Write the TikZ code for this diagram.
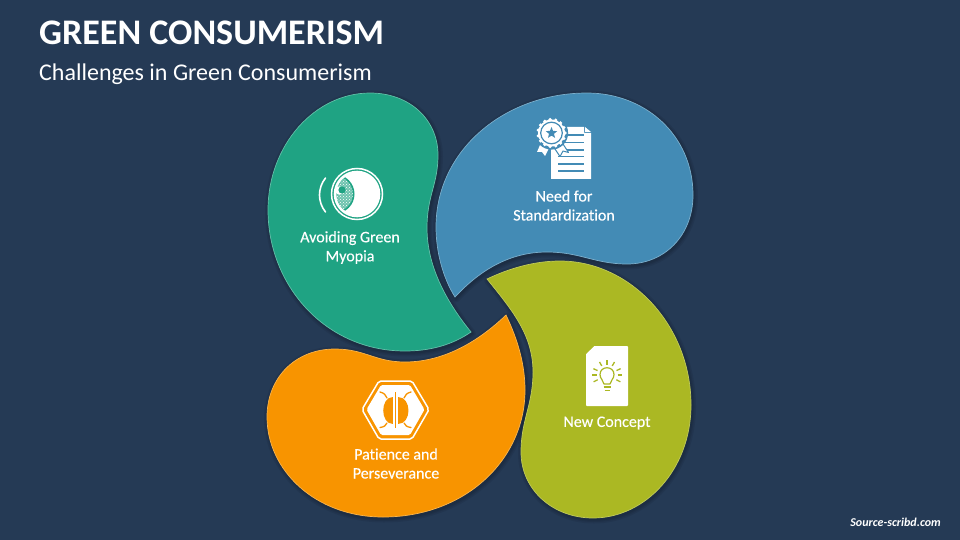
\documentclass[tikz,border=0pt]{standalone}
\usepackage{fontspec}
\setmainfont[RawFeature={-liga;-clig;-dlig}]{Carlito}
\newfontfamily\lblfont[RawFeature={-liga;-clig;-dlig},FakeBold=0.25]{Carlito}
\usetikzlibrary{shapes.geometric,patterns}
\definecolor{bgc}{HTML}{253A55}
\definecolor{greenc}{HTML}{1FA383}
\definecolor{bluec}{HTML}{438BB5}
\definecolor{olivec}{HTML}{ABB823}
\definecolor{orangec}{HTML}{F89400}
\tikzset{
 lbl/.style={text=white,font=\lblfont\fontsize{16}{19}\selectfont,align=center,inner sep=0pt},
 title/.style={text=white,anchor=base west,inner sep=0pt},
 iconw/.style={fill=white,draw=none},
 shadowpart/.style={draw=black,line join=round,opacity=.07,fill=none},
}
\newcommand{\petal}[3]{%
 \begin{scope}[xshift=1pt,yshift=-1.5pt]
 \path[shadowpart,line width=8pt] #1;
 \path[shadowpart,line width=5pt] #1;
 \path[shadowpart,line width=2.5pt] #1;
 \end{scope}
 \path[fill=#2,draw=#3,line width=.7pt,line join=miter] #1;
}
\def\pgreen{(471,332) .. controls (452,345) and (430,351) .. (405,351) .. controls (325,351) and (268,285) .. (268,210) .. controls (268,145) and (315,93) .. (370,93) .. controls (410,93) and (438,120) .. (438,155) .. controls (438,185) and (427,195) .. (427,228) .. controls (427,265) and (445,300) .. cycle}
\def\pblue{(455,297) .. controls (443,278) and (436,252) .. (436,227) .. controls (436,150) and (505,93) .. (587,93) .. controls (645,93) and (693,135) .. (693,195) .. controls (693,235) and (665,264) .. (627,264) .. controls (595,264) and (580,252) .. (547,252) .. controls (510,252) and (480,270) .. cycle}
\def\polive{(487,279) .. controls (510,268) and (535,261) .. (560,261) .. controls (630,261) and (691,325) .. (691,405) .. controls (691,470) and (645,518) .. (593,518) .. controls (553,518) and (521,490) .. (521,452) .. controls (521,420) and (533,405) .. (533,372) .. controls (533,335) and (512,310) .. cycle}
\def\porange{(506,315) .. controls (518,340) and (525,365) .. (525,390) .. controls (525,460) and (465,517) .. (383,517) .. controls (315,517) and (267,470) .. (267,417) .. controls (267,378) and (295,349) .. (335,349) .. controls (365,349) and (375,362) .. (405,362) .. controls (445,362) and (480,340) .. cycle}
\begin{document}
\begin{tikzpicture}[x=1pt,y=-1pt]
\useasboundingbox (0,0) rectangle (960,540);
\fill[bgc] (0,0) rectangle (960,540);
\node[title,font=\fontsize{36}{40}\selectfont\bfseries] (ttl) at (39,45) {GREEN CONSUMERISM};
\node[title,font=\fontsize{24}{28}\selectfont] (sub) at (39,80.5) {Challenges in Green Consumerism};
\node[text=white,anchor=base east,inner sep=0pt,font=\fontsize{12}{14}\selectfont\bfseries\itshape] (src) at (941,526) {Source-scribd.com};

\petal{\porange}{orangec}{orangec!70!white}
\petal{\pgreen}{greenc}{greenc!70!white}
\petal{\pblue}{bluec}{bluec!70!white}
\petal{\polive}{olivec}{olivec!75!white}

% eye icon
\draw[white,line width=1.5pt] (357,194) circle (25.5);
\fill[white] (357,194) circle (23.3);
\begin{scope}
 \clip (357,194) circle (20.5);
 \fill[greenc] (335,194) circle (19.5);
 \fill[greenc!65!white] (335,194) circle (17.8);
 \path[pattern=crosshatch dots,pattern color=white] (335,194) circle (17.8);
\end{scope}
\fill[white] (339.5,190.5) circle (4.2);
\fill[greenc] (342,190) circle (3.6);
\draw[white,line width=1.6pt,line cap=round] (325.5,178) .. controls (317.5,188) and (317.5,202) .. (325.5,212);

% certificate icon
\path[iconw] (551,127) -- (584,127) -- (584,133) -- (591,133) -- (591,179) -- (551,179) -- cycle;
\path[iconw] (585,127) -- (591,132) -- (585,132) -- cycle;
\foreach \yy/\xs in {135/558,142.7/558,150/558,156.7/558,164/558,171/558}{
 \draw[bluec,line width=1.3pt] (\xs,\yy) -- (584,\yy);
}
\path[fill=white,draw=none] (540,145) -- (537,152) -- (542,152) -- (545,156) -- (549,148) -- cycle;
\path[fill=white,draw=bluec,line width=1pt,line join=round] (555,149) -- (563,144) -- (568.5,152.5) -- (563,151) -- (560,156.5) -- cycle;
\fill[bluec] (551.5,133) circle (16.6);
\fill[white] (551.5,133) circle (13.5);
\foreach \a in {0,24,...,336}{\fill[white] (551.5,133) ++(\a:13.5) circle (1.8);}
\draw[bluec,line width=1.2pt] (551.5,133) circle (10.8);
\node[star,star points=5,star point ratio=2.3,fill=bluec,inner sep=0pt,minimum size=12pt] (starn) at (551.5,133) {};

% paper and bulb icon
\path[iconw,rounded corners=.8pt] (594,346) -- (628,346) -- (628,406) -- (586,406) -- (586,354) -- cycle;
\path[fill=olivec] (595,345) -- (585,345) -- (585,354.5) -- cycle;
\path[iconw] (593,349) -- (593.5,352.5) -- (589,353) -- cycle;
\draw[olivec,line width=1.2pt,line join=round] (604,384) .. controls (603.5,380) and (600,379) .. (600,374.5) .. controls (600,365.5) and (614,365.5) .. (614,374.5) .. controls (614,379) and (610.5,380) .. (610,384) -- cycle;
\draw[olivec,line width=1.4pt] (603.5,387) -- (610.5,387) (604.5,390.5) -- (609.5,390.5);
\foreach \a in {-155,-120,-90,-60,-25,0,27,153,180}{
 \draw[olivec,line width=1.3pt] (607,375) ++(\a:10.5) -- ++(\a:4.5);
}

% hexagon icon
\draw[white,line width=1.5pt,rounded corners=2pt,line join=round] (362,409.5) -- (379,381) -- (412,381) -- (429,409.5) -- (412,439) -- (379,439) -- cycle;
\path[iconw,rounded corners=1.5pt] (366.5,409.5) -- (381,385) -- (410,385) -- (424.5,409.5) -- (410,435) -- (381,435) -- cycle;
\fill[orangec] (392.7,397) .. controls (379.5,397) and (379.5,423.5) .. (392.7,423.5) -- cycle;
\fill[orangec] (398.3,397) .. controls (411.5,397) and (411.5,423.5) .. (398.3,423.5) -- cycle;
\draw[orangec,line width=1.6pt] (395.5,392) -- (395.5,427.5);
\draw[orangec,line width=1.3pt,line cap=round] (380,392) .. controls (384,393) and (386,395) .. (387,398)
 (380,427.5) .. controls (384,427) and (386,425.5) .. (387,423)
 (411,392) .. controls (407,393) and (405,395) .. (404,398)
 (411,427.5) .. controls (407,427) and (405,425.5) .. (404,423);

\node[lbl] (l1) at (350,247.5) {Avoiding Green\\Myopia};
\node[lbl] (l2) at (564,205.5) {Need for\\Standardization};
\node[lbl] (l3) at (607,423) {New Concept};
\node[lbl] (l4) at (396,463.5) {Patience and\\Perseverance};
\end{tikzpicture}
\end{document}
